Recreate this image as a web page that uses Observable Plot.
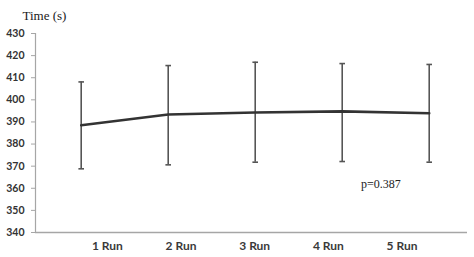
<!DOCTYPE html>
<html>
<head>
<meta charset="utf-8">
<script src="https://cdn.jsdelivr.net/npm/d3@7"></script>
<script src="https://cdn.jsdelivr.net/npm/@observablehq/plot@0.6"></script>
<style>
  html, body { margin: 0; padding: 0; background: #fff; }
</style>
</head>
<body>
<div id="chart"></div>
<script>
// ---- data ----
const categories = ["1 Run", "2 Run", "3 Run", "4 Run", "5 Run"];
const runs = [1, 2, 3, 4, 5];
const meanTime = [388.5, 393.4, 394.3, 394.8, 393.9];
const lowerTime = [368.8, 370.6, 371.8, 372.1, 371.8];
const upperTime = [408.1, 415.5, 417.0, 416.4, 416.0];
const yTicks = [340, 350, 360, 370, 380, 390, 400, 410, 420, 430];
const yTitle = "Time (s)";
const pLabel = "p=0.387";

const rows = runs.map((r, i) => ({
  run: r, label: categories[i], mean: meanTime[i], lo: lowerTime[i], hi: upperTime[i]
}));

// labels in the reference sit on their own evenly spaced band along the axis
const labelBand = d3.scaleBand().domain(categories).range([0.878, 5.11]);
const labelX = (d) => labelBand(d) + labelBand.bandwidth() / 2;

// horizontal cap symbol for error bars
const capSymbol = {
  draw(ctx) { ctx.moveTo(-2.8, 0); ctx.lineTo(2.8, 0); }
};

const sans = "Lato, 'Open Sans', sans-serif";
const serif = "'Liberation Serif', 'DejaVu Serif', serif";

const chart = Plot.plot({
  width: 474,
  height: 257,
  marginLeft: 35,
  marginRight: 7,
  marginTop: 33,
  marginBottom: 25,
  style: { background: "#fff", overflow: "visible" },
  x: { type: "linear", domain: [0.4747, 5.44], axis: null },
  y: { domain: [340, 430], axis: null },
  marks: [
    // axis lines
    Plot.ruleX([0.4747], { stroke: "#a6a6a6", strokeWidth: 1.2 }),
    Plot.ruleY([340], { stroke: "#a6a6a6", strokeWidth: 1.6 }),
    Plot.axisY({
      ticks: yTicks, tickSize: 4, tickPadding: 7, tickFormat: d3.format("d"),
      stroke: "#a6a6a6", fill: "#333", fontSize: 10.5, fontWeight: "bold",
      fontFamily: sans, label: null
    }),
    // x category labels
    Plot.text(categories, {
      x: labelX, frameAnchor: "bottom", dy: 17, text: d => d,
      fontSize: 12, fontWeight: "bold", fontFamily: sans, fill: "#3a3a3a"
    }),
    // error bars
    Plot.ruleX(rows, { x: "run", y1: "lo", y2: "hi", stroke: "#555", strokeWidth: 1.6 }),
    Plot.dot(rows, { x: "run", y: "lo", symbol: capSymbol, stroke: "#555", strokeWidth: 1.6, r: 3 }),
    Plot.dot(rows, { x: "run", y: "hi", symbol: capSymbol, stroke: "#555", strokeWidth: 1.6, r: 3 }),
    // mean line
    Plot.line(rows, { x: "run", y: "mean", stroke: "#333", strokeWidth: 2.6 }),
    // annotations
    Plot.text([yTitle], {
      frameAnchor: "top-left", dx: -13, dy: -23, textAnchor: "start", text: d => d,
      fontFamily: serif, fontSize: 13, fill: "#1a1a1a"
    }),
    Plot.text([pLabel], {
      x: [4.215], y: [361.8], textAnchor: "start", text: d => d,
      fontFamily: serif, fontSize: 12, fill: "#222"
    })
  ]
});

document.getElementById("chart").appendChild(chart);
</script>
</body>
</html>
